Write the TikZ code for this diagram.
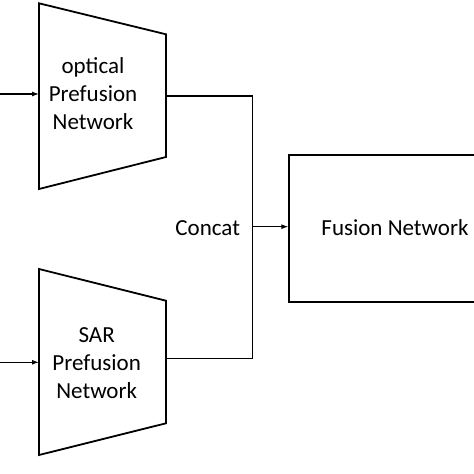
\documentclass[tikz,border=0pt]{standalone}
\usepackage{fontspec}
\setmainfont{Carlito}
\usetikzlibrary{arrows.meta}
\begin{document}
\begin{tikzpicture}[x=1pt,y=-1pt,
  shapeline/.style={line width=1.8pt,line join=miter},
  conn/.style={line width=1.4pt},
  arr/.style={line width=1.1pt,-{Latex[length=7pt,width=5pt]}},
  lbl/.style={font=\fontsize{23}{28}\selectfont,align=center,inner sep=0pt}]
\useasboundingbox (0,0) rectangle (474,474);
\begin{scope}
\clip (0,0) rectangle (474,474);
% top trapezoid
\coordinate (t1) at (39,3.3);
\coordinate (t2) at (166,34.3);
\coordinate (t3) at (166,157);
\coordinate (t4) at (39,189);
\draw[shapeline] (t1) -- (t2) -- (t3) -- (t4) -- cycle;
% bottom trapezoid
\coordinate (b1) at (39,269);
\coordinate (b2) at (166,300.7);
\coordinate (b3) at (166,423.3);
\coordinate (b4) at (39,455);
\draw[shapeline] (b1) -- (b2) -- (b3) -- (b4) -- cycle;
% fusion box
\node[draw,shapeline,minimum width=230pt,minimum height=146.7pt,anchor=north west,inner sep=0pt] (fus) at (288.3,154) {};
% texts
\node[lbl] (toptext) at (93,94) {optical\\Prefusion\\Network};
\node[lbl] (bottext) at (96.7,363) {SAR\\Prefusion\\Network};
\node[lbl] (concat) at (207.7,228) {Concat};
\node[lbl] (fustext) at (395,228) {Fusion Network};
% connectors
\coordinate (tin) at (0,94);
\coordinate (tinend) at (39,94);
\coordinate (bin) at (0,362.3);
\coordinate (binend) at (39,362.3);
\draw[arr] (tin) -- (tinend);
\draw[arr] (bin) -- (binend);
\coordinate (tout) at (166,96);
\coordinate (bout) at (166,358.3);
\coordinate (j1) at (252.3,96);
\coordinate (j2) at (252.3,358.3);
\coordinate (jm) at (252.3,226.7);
\coordinate (fin) at (288.3,226.7);
\draw[conn] (tout) -- (j1) -- (j2) -- (bout);
\draw[arr] (jm) -- (fin);
\end{scope}
\end{tikzpicture}
\end{document}
